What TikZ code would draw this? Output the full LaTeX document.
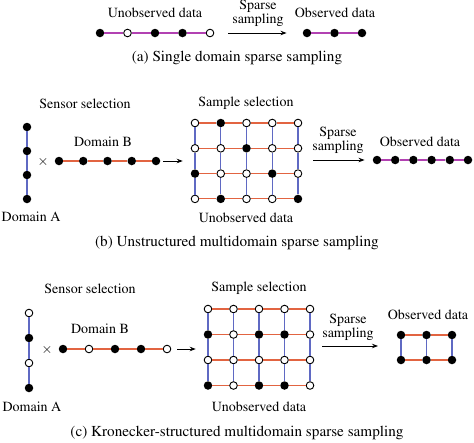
\documentclass[tikz,border=0pt]{standalone}
\usepackage[T1]{fontenc}
\usepackage{mathptmx}
\usepackage{amsmath}
\usetikzlibrary{positioning, arrows.meta}

\definecolor{lineblue}{RGB}{95,105,195}
\definecolor{lineorange}{RGB}{226,100,65}
\definecolor{linepurple}{RGB}{178,65,178}

\tikzset{
    dot1/.style={circle, fill=black, inner sep=0pt, minimum size=8.5pt},
    dot0/.style={circle, draw=black, fill=white, line width=0.9pt, inner sep=0pt, minimum size=7.6pt},
    blueline/.style={lineblue, line width=1.1pt},
    orangeline/.style={lineorange, line width=1.1pt},
    purpleline/.style={linepurple, line width=1.1pt},
    lbl/.style={font=\fontsize{14}{15}\selectfont, inner sep=0pt},
    caption/.style={font=\fontsize{15.2}{17}\selectfont, inner sep=0pt},
    arr/.style={-{Stealth[length=6pt, width=4.5pt]}, line width=0.9pt}
}

\begin{document}
\begin{tikzpicture}[x=1pt, y=-1pt]
    \useasboundingbox (0,0) rectangle (474,442);

    % (a) single domain
    \foreach \f [count=\i] in {1,0,1,1,0}
        \node[dot\f] (U\i) at ({100+(\i-1)*27.5},33) {};
    \foreach \i [evaluate=\i as \n using int(\i+1)] in {1,...,4}
        \draw[purpleline] (U\i) -- (U\n);
    \node[lbl] (unobsA) at (155,13) {Unobserved data};
    \foreach \i in {1,2,3}
        \node[dot1] (O\i) at ({307+(\i-1)*27.5},33) {};
    \draw[purpleline] (O1) -- (O2) (O2) -- (O3);
    \node[lbl] (obsA) at (335,13) {Observed data};
    \draw[arr] ([xshift=14pt]U5.east) -- ([xshift=-16pt]O1.west);
    \node[lbl, align=center] (spA) at (258,13.5) {Sparse\\[-1pt]sampling};
    \node[caption] (capA) at (237,58) {(a) Single domain sparse sampling};

    % (b) unstructured
    \node[lbl] (sensB) at (85,104) {Sensor selection};
    \foreach \i in {1,...,4}
        \node[dot1] (BA\i) at (27,{127+(\i-1)*24}) {};
    \foreach \i [evaluate=\i as \n using int(\i+1)] in {1,2,3}
        \draw[blueline] (BA\i) -- (BA\n);
    \node[lbl] (domAb) at (31,217) {Domain A};
    \node[lbl] (timesB) at (43,162) {$\times$};
    \foreach \i in {1,...,5}
        \node[dot1] (BB\i) at ({59+(\i-1)*24.25},161) {};
    \foreach \i [evaluate=\i as \n using int(\i+1)] in {1,...,4}
        \draw[orangeline] (BB\i) -- (BB\n);
    \node[lbl] (domBb) at (103,142) {Domain B};

    \foreach \row/\pat in {1/{0,1,0,0,0}, 2/{0,0,1,0,0}, 3/{1,0,0,1,0}, 4/{0,1,0,0,1}}
        \foreach \f [count=\col] in \pat
            \node[dot\f] (B\row\col) at ({195+(\col-1)*25.75},{123+(\row-1)*25.3}) {};
    \foreach \row in {1,...,4}{
        \foreach \col in {1,...,4}{
            \pgfmathtruncatemacro\nxt{\col+1}
            \draw[orangeline] (B\row\col) -- (B\row\nxt);
        }
    }
    \foreach \col in {1,...,5}{
        \foreach \row in {1,2,3}{
            \pgfmathtruncatemacro\nxt{\row+1}
            \draw[blueline] (B\row\col) -- (B\nxt\col);
        }
    }
    \node[lbl] (sampB) at (246,103) {Sample selection};
    \node[lbl] (unobsB) at (246,218) {Unobserved data};
    \draw[arr] ([xshift=3pt]BB5.east) -- ([xshift=-8pt]B11.west |- BB5);

    \foreach \i in {1,...,6}
        \node[dot1] (BO\i) at ({377+(\i-1)*18.2},160) {};
    \foreach \i [evaluate=\i as \n using int(\i+1)] in {1,...,5}
        \draw[purpleline] (BO\i) -- (BO\n);
    \node[lbl] (obsB) at (420,142) {Observed data};
    \draw[arr] ([xshift=11pt]B15.east |- BO1) -- ([xshift=-8pt]BO1.west);
    \node[lbl, align=center] (spB) at (338,140) {Sparse\\[-1pt]sampling};
    \node[caption] (capB) at (237,243) {(b) Unstructured multidomain sparse sampling};

    % (c) Kronecker-structured
    \node[lbl] (sensC) at (90,289) {Sensor selection};
    \foreach \f [count=\i] in {0,1,0,1}
        \node[dot\f] (CA\i) at (29,{313+(\i-1)*25}) {};
    \foreach \i [evaluate=\i as \n using int(\i+1)] in {1,2,3}
        \draw[blueline] (CA\i) -- (CA\n);
    \node[lbl] (domAc) at (32,407) {Domain A};
    \node[lbl] (timesC) at (47,350) {$\times$};
    \foreach \f [count=\i] in {1,0,1,1,0}
        \node[dot\f] (CB\i) at ({63+(\i-1)*26},349) {};
    \foreach \i [evaluate=\i as \n using int(\i+1)] in {1,...,4}
        \draw[orangeline] (CB\i) -- (CB\n);
    \node[lbl] (domBc) at (100,329) {Domain B};

    \foreach \row/\pat in {1/{0,0,0,0,0}, 2/{1,0,1,1,0}, 3/{0,0,0,0,0}, 4/{1,0,1,1,0}}
        \foreach \f [count=\col] in \pat
            \node[dot\f] (C\row\col) at ({208+(\col-1)*25.5},{309+(\row-1)*25.5}) {};
    \foreach \row in {1,...,4}{
        \foreach \col in {1,...,4}{
            \pgfmathtruncatemacro\nxt{\col+1}
            \draw[orangeline] (C\row\col) -- (C\row\nxt);
        }
    }
    \foreach \col in {1,...,5}{
        \foreach \row in {1,2,3}{
            \pgfmathtruncatemacro\nxt{\row+1}
            \draw[blueline] (C\row\col) -- (C\nxt\col);
        }
    }
    \node[lbl] (sampC) at (259,288) {Sample selection};
    \node[lbl] (unobsC) at (259,407) {Unobserved data};
    \draw[arr] ([xshift=6pt]CB5.east) -- ([xshift=-8pt]C11.west |- CB5);

    \foreach \row in {1,2}
        \foreach \col in {1,2,3}
            \node[dot1] (CO\row\col) at ({401+(\col-1)*25.5},{335+(\row-1)*25}) {};
    \foreach \row in {1,2}
        \draw[orangeline] (CO\row1) -- (CO\row2) (CO\row2) -- (CO\row3);
    \foreach \col in {1,2,3}
        \draw[blueline] (CO1\col) -- (CO2\col);
    \node[lbl] (obsC) at (428,315) {Observed data};
    \coordinate (sc) at (322,346);
    \coordinate (ec) at (378,346);
    \draw[arr] (sc) -- (ec);
    \node[lbl, align=center] (spC) at (348,327) {Sparse\\[-1pt]sampling};
    \node[caption] (capC) at (237,433) {(c) Kronecker-structured multidomain sparse sampling};
\end{tikzpicture}
\end{document}
